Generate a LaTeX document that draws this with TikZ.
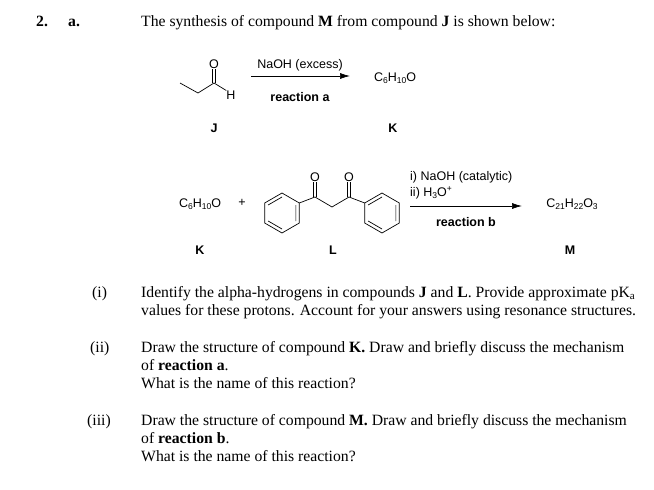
\documentclass[tikz,border=0pt]{standalone}
\usepackage{fontspec}
\setmainfont{Liberation Serif}
\newfontfamily\sans{Liberation Sans}
\usetikzlibrary{arrows.meta}
\newcommand{\sbs}[1]{\raisebox{-0.3ex}{\fontsize{8.5}{9}\selectfont #1}}
\newcommand{\sps}[1]{\raisebox{0.8ex}{\fontsize{8.5}{9}\selectfont #1}}
\begin{document}
\begin{tikzpicture}[x=1pt,y=-1pt,
  body/.style={font=\fontsize{15.7}{18}\selectfont,anchor=base west,inner sep=0},
  lab/.style={font=\sans\fontsize{12.5}{14}\selectfont,inner sep=0},
  cmp/.style={font=\sans\bfseries\fontsize{12.5}{14}\selectfont,inner sep=0},
  bond/.style={line width=0.7pt},
  rxn/.style={line width=0.7pt,-{Latex[length=10pt,width=6pt]}}]
\useasboundingbox (0,0) rectangle (654,490);
% header
\node[body] (n2) at (36,26) {\textbf{2.}};
\node[body] (na) at (68,26) {\textbf{a.}};
\node[body] (t0) at (141,26) {The synthesis of compound \textbf{M} from compound \textbf{J} is shown below:};
% J
\coordinate (j1) at (180,83); \coordinate (j2) at (198,93); \coordinate (j3) at (214,83);
\node[lab] (jO) at (214,64) {O};
\node[lab] (jH) at (231,95) {H};
\draw[bond] (j1)--(j2)--(j3);
\draw[bond] ([xshift=-1.5]j3)--([xshift=-1.5]jO.south); \draw[bond] ([xshift=1.5]j3)--([xshift=1.5]jO.south);
\draw[bond] (j3)--(jH.north west);
\node[cmp] (J) at (214,128) {J};
% reaction a
\coordinate (a1) at (251,76); \coordinate (a2) at (350,76);
\draw[rxn] (a1)--(a2);
\node[lab] (ra1) at (300,65) {NaOH (excess)};
\node[cmp] (ra2) at (300,97) {reaction a};
\node[lab] (K1) at (395,78) {C\sbs{6}H\sbs{10}O};
\node[cmp] (K) at (393,128) {K};
% row 2
\node[lab] (K2) at (200,204) {C\sbs{6}H\sbs{10}O};
\node[lab] (plus) at (242,203) {+};
\node[cmp] (Kb) at (200,250) {K};
% L
\foreach \cx in {282,382}{
  \begin{scope}[shift={(\cx,213)}]
  \draw[bond] (30:20)--(90:20)--(150:20)--(210:20)--(270:20)--(330:20)--cycle;
  \draw[bond] (90:16)--(150:16) (210:16)--(270:16) (330:16)--(30:16);
  \end{scope}}
\coordinate (c1) at (315,197); \coordinate (c2) at (332,207); \coordinate (c3) at (349,197);
\node[lab] (O1) at (315,177) {O};
\node[lab] (O2) at (349,177) {O};
\draw[bond] (299.3,203)--(c1)--(c2)--(c3)--(364.7,203);
\draw[bond] ([xshift=-1.5]c1)--([xshift=-1.5]O1.south) ([xshift=1.5]c1)--([xshift=1.5]O1.south);
\draw[bond] ([xshift=-1.5]c3)--([xshift=-1.5]O2.south) ([xshift=1.5]c3)--([xshift=1.5]O2.south);
\node[cmp] (L) at (333,250) {L};
% reaction b
\draw[rxn] (410,206)--(522,206);
\node[lab,anchor=west] (rb1) at (410,177) {i) NaOH (catalytic)};
\node[lab,anchor=west] (rb2) at (410,193) {ii) H\sbs{3}O\sps{+}};
\node[cmp] (rb3) at (466,222) {reaction b};
\node[lab] (M1) at (572,204) {C\sbs{21}H\sbs{22}O\sbs{3}};
\node[cmp] (M) at (570,250) {M};
% questions
\node[body] (q1) at (92,297) {(i)};
\node[body] (q1a) at (141,297) {Identify the alpha-hydrogens in compounds \textbf{J} and \textbf{L}. Provide approximate pK\textsubscript{a}};
\node[body] (q1b) at (141,315) {values for these protons. Account for your answers using resonance structures.};
\node[body] (q2) at (90,352) {(ii)};
\node[body] (q2a) at (141,352) {Draw the structure of compound \textbf{K.} Draw and briefly discuss the mechanism};
\node[body] (q2b) at (141,370) {of \textbf{reaction a}.};
\node[body] (q2c) at (141,388) {What is the name of this reaction?};
\node[body] (q3) at (87,425) {(iii)};
\node[body] (q3a) at (141,425) {Draw the structure of compound \textbf{M.} Draw and briefly discuss the mechanism};
\node[body] (q3b) at (141,443) {of \textbf{reaction b}.};
\node[body] (q3c) at (141,461) {What is the name of this reaction?};
\end{tikzpicture}
\end{document}
